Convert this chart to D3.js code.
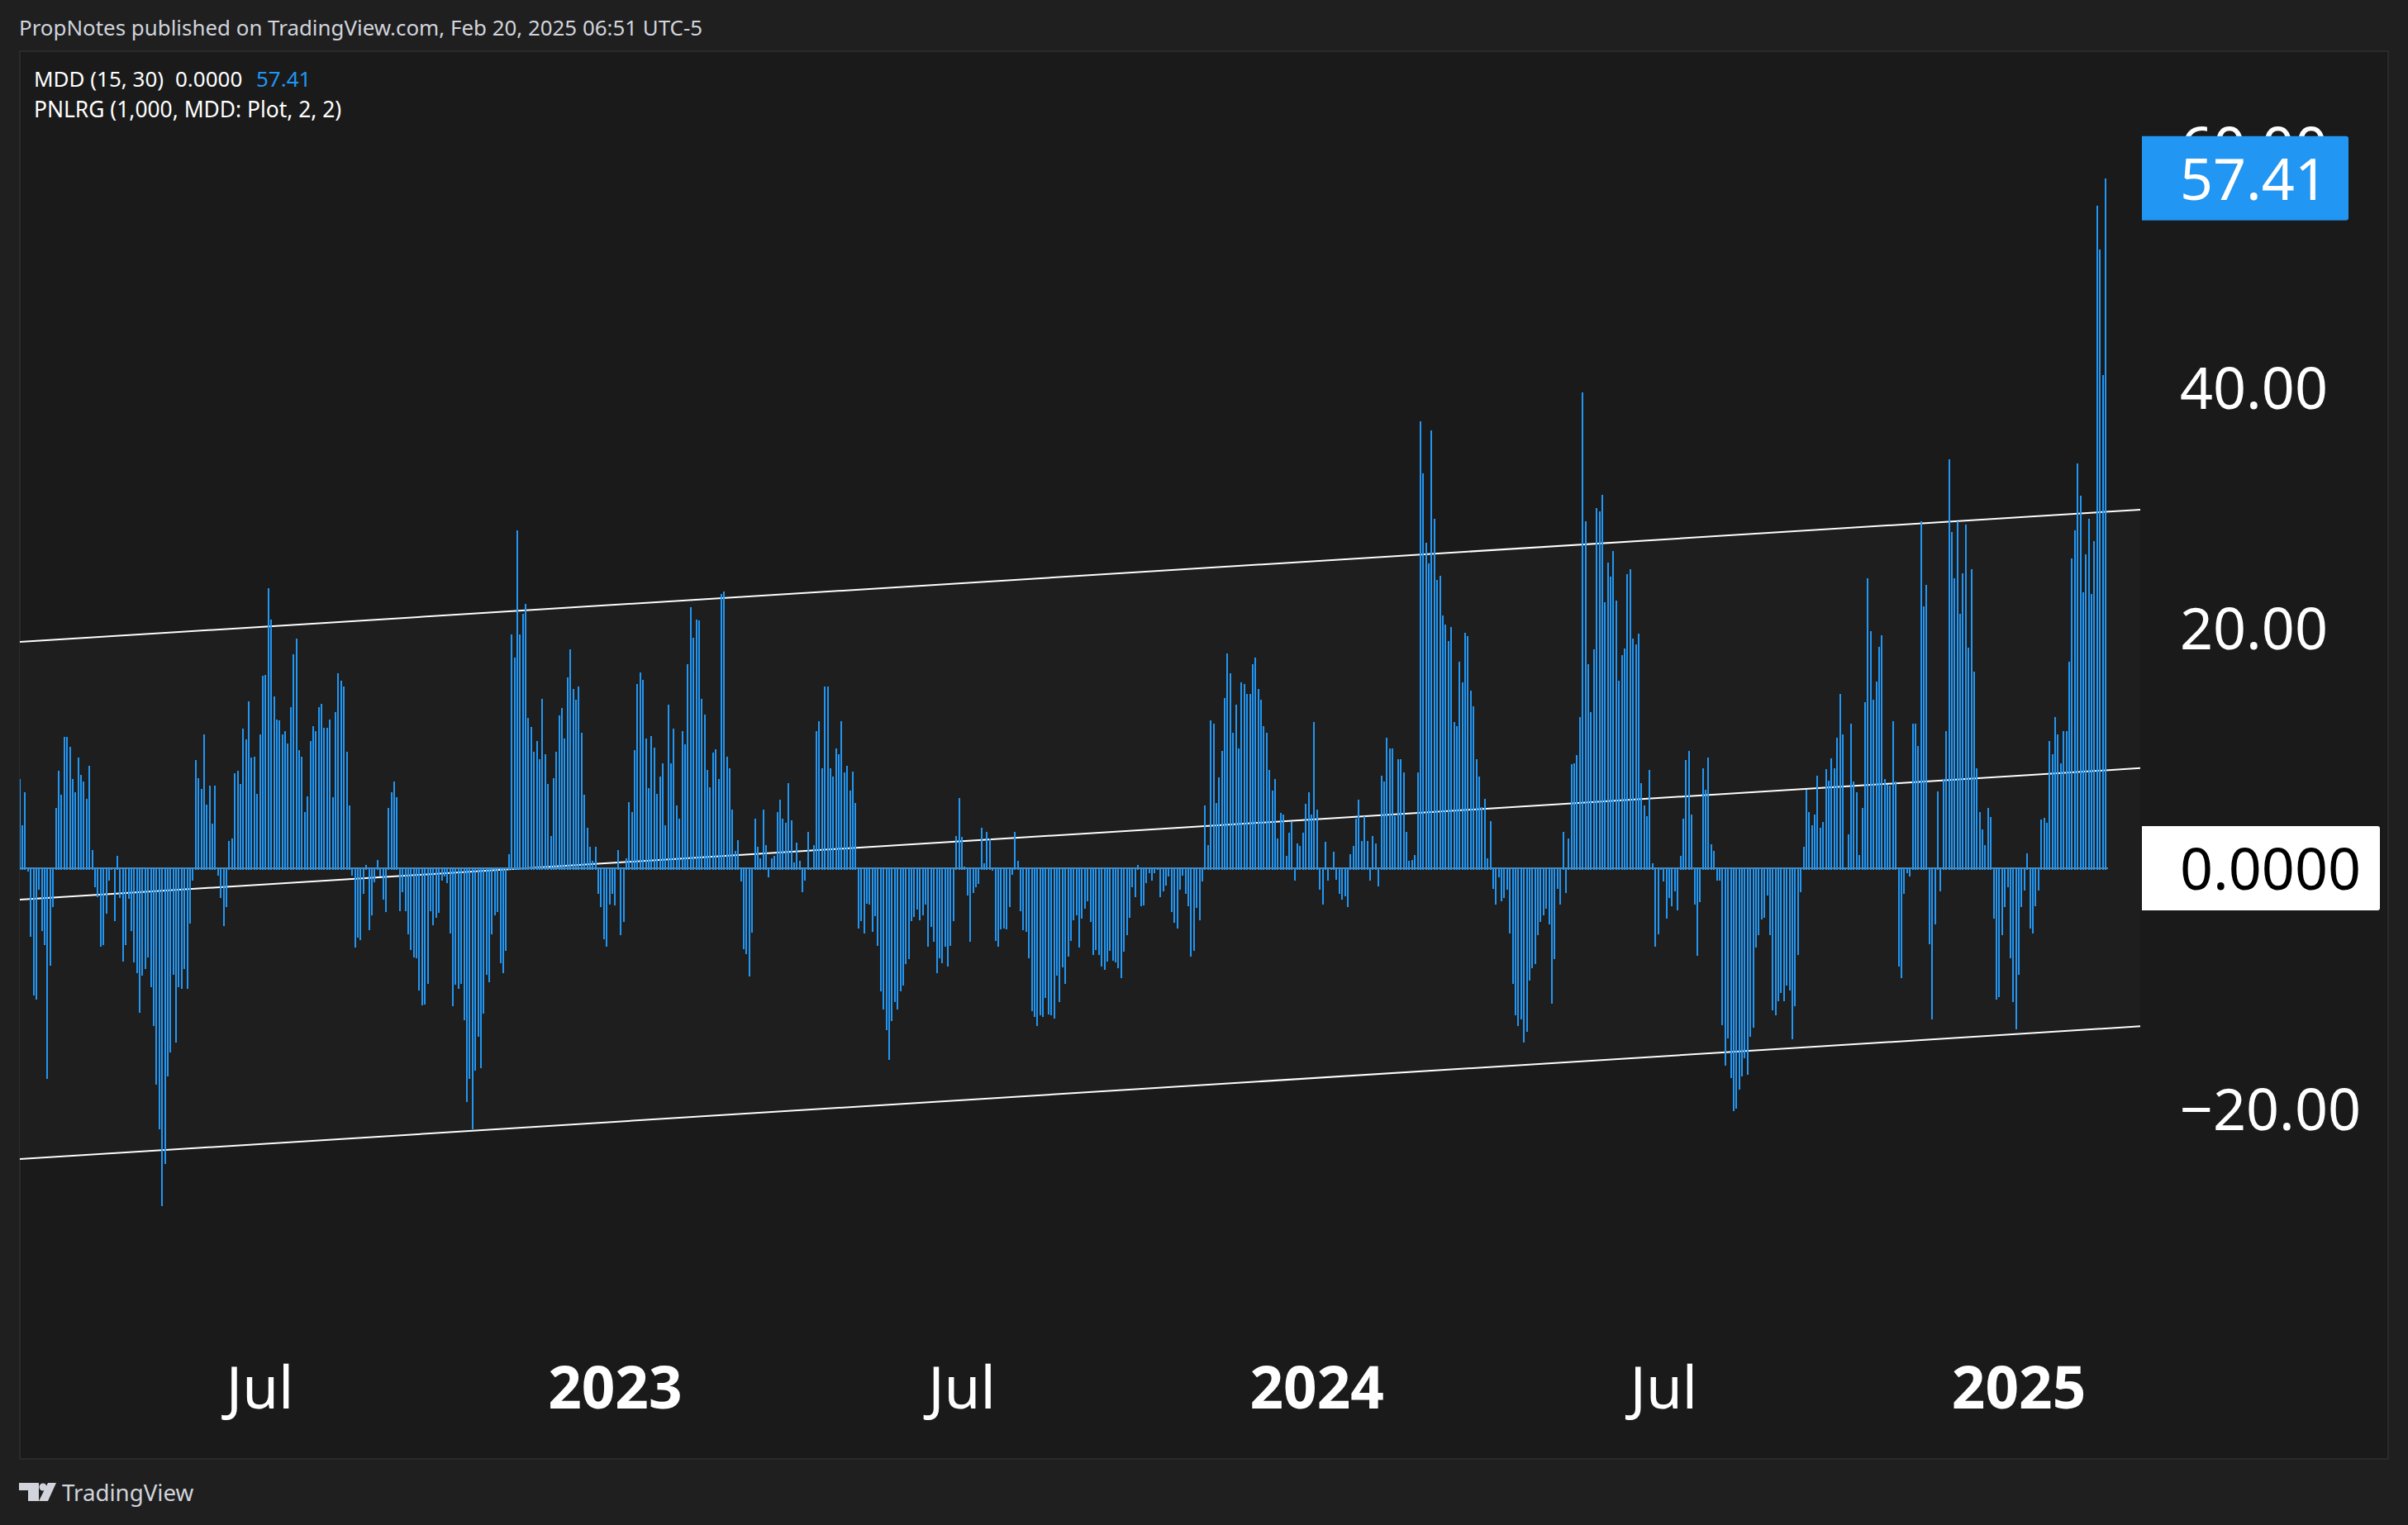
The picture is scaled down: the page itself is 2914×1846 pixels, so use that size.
<!DOCTYPE html>
<html>
<head>
<meta charset="utf-8">
<style>
html,body{margin:0;padding:0;background:#1f1f1f;}
svg{display:block;font-family:"Noto Sans",sans-serif;}
</style>
<script src="https://cdn.jsdelivr.net/npm/d3@7/dist/d3.min.js"></script>
</head>
<body>
<svg id="c" width="2914" height="1846"></svg>
<script>
const headerText = "PropNotes published on TradingView.com, Feb 20, 2025 06:51 UTC-5";
const legendName = "MDD (15, 30)";
const legendZero = "0.0000";
const legendValue = "57.41";
const legendChannel = "PNLRG (1,000, MDD: Plot, 2, 2)";
const brandText = "TradingView";
const yTicks = [60, 40, 20, -20];
const timeLabels = ["Jul", "2023", "Jul", "2024", "Jul", "2025"];
const timeBars = [86, 213, 337, 464, 588, 715];
const timeBold = [false, true, false, true, false, true];
const lastValue = 57.41;
const upperBand = [18.83, 29.83];
const middleBand = [-2.61, 8.33];
const lowerBand = [-24.2, -13.15];
const mddValues = [
7.4,3.6,6.3,-0.25,-5.7,-10.6,-10.9,-1.8,-5.2,-6.4,-17.5,-8.1,-3.2,5.05,8.1,6.1,10.9,10.9,10.1,7.4,6.35,9.2,7.8,7.2,5.8,8.5,1.5,-1.6,-2.4,-6.5,-6.4,-3.8,-1.05,-0.15,-4.4,1.0,-2.5,-7.8,-6.4,-2.55,-5.2,-7.85,-8.75,-12,-8.95,-8.4,-7.4,-9.9,-13.1,-18,-21.7,-28.1,-24.6,-17.3,-15.3,-8.9,-14.5,-9.9,-10,-8.4,-10,-4.6,-1.05,9,7.5,6.6,11.1,5.3,6.85,3.7,6.9,-0.6,-2.5,-4.8,-3.2,2.3,2.5,7.9,8.1,7,11.6,10.7,13.9,9.2,9.3,6.2,11.1,16,16.1,23.3,20.7,14.3,12.4,12.3,11.1,11.4,10.4,13.4,17.8,19.1,9.8,9.3,4.7,6,10.6,11.8,11.4,13.4,13.7,11.7,11.7,12.4,5.9,13,16.2,15.6,15.1,9.7,5.2,-0.6,-6.6,-5.8,-6,-2.1,
0.25,-5.15,-3.9,-1.2,0.7,-0.7,-2.6,-3.65,5,6.3,7.2,5.9,-3.6,-2,-3.6,-5.5,-6.8,-7.4,-7.5,-10.2,-11.4,-11.35,-9.6,-3.6,-4.75,-4.1,-3.7,-1.05,-0.7,-1.25,-5.4,-11.5,-9.7,-10,-9.6,-12.65,-19.45,-17.5,-21.7,-16.85,-14,-16.6,-12.1,-8.9,-9.5,-5.5,-3.9,-3.65,-7.9,-8.7,-6.9,1.2,19.45,17.5,28.1,19.45,21.2,22,12.5,11.75,9.7,10.6,9.1,14.1,9.5,7,2.7,7.5,9.7,12.7,13.3,10.8,15.9,18.2,14.9,14.05,15.1,11.3,6.1,3.4,1.8,0.65,1.8,-2.1,-3.25,-5.9,-6.5,-3.05,-2.15,-3.1,1.5,-5.6,-4.5,0.85,5.5,4.7,9.8,15.35,16.3,15.7,10.8,6.7,11,10.05,6.2,7.65,8.7,3.6,13.6,8.7,11.6,5.2,4.15,11.4,10.3,17,21.7,19.2,
20.7,20.65,14.1,12.75,8.15,6.75,9.6,9.9,7.45,22.8,23.05,9.25,8.35,4.85,1.45,2.35,-1.1,-6.75,-7.15,-9,-5.35,4.15,1.8,0.85,4.9,1.9,-0.75,0.8,1,4.7,5.7,4.15,3.75,7.05,4,0.45,2.15,0.6,-2,-1.05,3.05,0,1.9,11.4,12.25,8.3,15.15,15.1,8.35,7.65,10,9.5,12.2,7.95,8.5,6.45,8.05,5.45,-5,-4.4,-5.45,-2.95,-3,-5.3,-4,-6.45,-10.25,-11.75,-13.5,-15.95,-12.7,-11.15,-11.75,-10.25,-9.75,-8,-7.55,-4.4,-4.05,-3.45,-4.35,-3.9,-3,-6.5,-4.9,-6.1,-8.7,-7.5,-7.9,-6.5,-8.2,-6.45,-4.4,2.65,5.85,2.6,0.15,-2.3,-6.1,-2.05,-1.6,-1.3,3.4,0.4,3,2.5,-0.2,-6.05,-6.5,-5.1,-5.05,-5.1,-3.2,-0.55,3,0.6,-3.6,-5.15,
-5.3,-7.5,-11.9,-12.35,-13.15,-12.25,-12.35,-10.8,-12.15,-12.25,-12.5,-8.95,-11.15,-8.25,-9.6,-7.35,-6.05,-4.35,-3.9,-6.6,-4.2,-3.35,-2.75,-4.45,-7.2,-6.8,-7.2,-8.2,-8.45,-7.75,-6.85,-7.7,-7.85,-8.3,-9.15,-6.95,-5.55,-4.1,-1.6,-2.4,0.25,-3.15,-3.1,-1.25,-0.4,-1.05,-0.4,-0.15,-2.4,-1.9,-1.45,-0.7,-3.65,-4.55,-5,-1.8,-0.6,-2.15,-3.15,-7.35,-6.85,-3.3,-4.35,-1.1,5.2,1.9,12.3,12.05,5.4,7.55,9.75,14.15,17.9,16.25,11.25,13.6,9.95,15.45,15.35,14.5,14.5,16.95,17.55,14.9,14,11.85,11.3,8.15,6.45,7.4,2.45,4.6,4.45,1,2.95,3.85,-1.05,2.05,1.85,2.95,5.35,6.3,4.45,12.15,4.9,-1.8,-3,2.2,-1.05,0,1.4,-0.95,-2.15,-2.6,-2.35,-3.2,1.2,1.85,
4.15,5.7,2.3,4.3,2.25,-1.05,2.65,2.05,-1.5,7.7,7.25,10.85,10,10,4.3,9.1,9.05,8,3.05,0.65,0.7,1.1,8,37.2,32.85,27.1,25.35,36.4,29.05,24,24.3,21,20.25,18.9,20.05,12.15,11.8,17.2,15.45,19.6,19.3,14.75,13.45,9.1,7.65,5.1,5.75,0.85,3.9,-1.75,-3,-0.75,-2.75,-2.5,-1.8,-5.45,-9.6,-12.2,-13.1,-12.55,-14.5,-13.6,-9.35,-8.35,-8,-5.6,-4.5,-3.95,-3.4,-4.7,-11.3,-7.55,-1.7,-3.05,3,-2.05,2.5,8.65,8.7,9.45,12.55,39.6,28.9,16.95,13,18.2,30,29.7,31.05,22.1,25.4,24.25,26.4,22.3,15.6,17.7,18.25,24.45,24.9,19.1,18.6,19.55,7.05,5.2,4.35,8.15,0.4,-6.5,-5.5,0,-1.1,-4.2,-2.5,-3.15,-1.95,-3.5,1,4.15,
9,9.75,4.45,-3,-7.3,-2.8,8.3,6.55,9.2,2,1.45,-1,-1,-13.05,-16.4,-14.15,-17.45,-20.2,-20,-18.45,-17.3,-15.8,-17.15,-14,-13.25,-6.6,-5.6,-4.25,-4.15,-2.25,-5.55,-11.8,-12.2,-11.05,-10.35,-11.05,-9.75,-10.2,-14.2,-11.45,-7.2,-2,1.8,6.5,4.65,3.55,4.5,7.7,3.4,3.85,8.25,7.3,9.15,8.3,10.85,14.5,11.1,0.1,2.85,12.05,7.2,6.3,1.1,5.05,13.8,24.1,19.7,14,15.5,18.4,19.35,7.4,6.95,6.9,12.25,7.2,-8.15,-9.15,-2.1,-0.4,-0.7,12,12,
10.2,28.85,21.8,23.6,-6.35,-12.6,-4.65,6.4,-1.9,7.45,11.4,34,27.95,24.1,28.85,21.15,24.55,28.6,18.35,24.85,16.35,8.3,4.7,3.2,1.95,5,4.25,-4.2,-10.95,-10.75,-5.6,-3.2,-1.55,-7.5,-11.15,-13.4,-8.85,-3.2,-1.85,1.25,-5.05,-5.4,-3.15,-1.85,4.05,4.2,3.75,10.55,9.5,12.6,11.15,8.75,11.4,11.4,17.15,25.75,28.1,33.65,31,22.95,26.1,29.05,22.8,27.2,55.1,51.5,41,57.41
];

const svg = d3.select("#c");
const n = mddValues.length;
const x = d3.scaleLinear().domain([0, n - 1]).range([23.6, 2548]);
const y = d3.scaleLinear().domain([0, 40]).range([1051, 469]);
const fmt = d3.format(".2f");
const bandEnd = n - 1 + 12.5;

// backgrounds
svg.append("rect").attr("width", 2914).attr("height", 1846).attr("fill", "#1f1f1f");
svg.append("rect").attr("x", 24).attr("y", 62).attr("width", 2866).attr("height", 1704)
  .attr("fill", "#1a1a1a").attr("stroke", "#2a2a2a").attr("stroke-width", 2);

const defs = svg.append("defs");
defs.append("clipPath").attr("id", "plot").append("rect")
  .attr("x", 24).attr("y", 62).attr("width", 2566).attr("height", 1704);
const plot = svg.append("g").attr("clip-path", "url(#plot)");

// regression channel
const area = d3.area().x(d => x(d.i)).y0(d => y(d.lo)).y1(d => y(d.hi));
plot.append("path")
  .attr("d", area([{i: 0, lo: lowerBand[0], hi: upperBand[0]}, {i: bandEnd, lo: lowerBand[1], hi: upperBand[1]}]))
  .attr("fill", "#1e1e1e");
[upperBand, middleBand, lowerBand].forEach(b => {
  plot.append("line")
    .attr("x1", x(0)).attr("x2", x(bandEnd))
    .attr("y1", y(b[0])).attr("y2", y(b[1]))
    .attr("stroke", "#ffffff").attr("stroke-width", 2);
});

// zero line
plot.append("line").attr("x1", x(0)).attr("x2", x(n - 1) + 3)
  .attr("y1", y(0)).attr("y2", y(0)).attr("stroke", "#787878").attr("stroke-width", 2);

// bars
plot.selectAll("rect.bar").data(mddValues).join("rect").attr("class", "bar")
  .attr("x", (d, i) => Math.round(x(i)) - 1)
  .attr("width", 2)
  .attr("y", d => d >= 0 ? y(d) : y(0) - 1)
  .attr("height", d => Math.abs(y(d) - y(0)) + (d >= 0 ? 2 : 1))
  .attr("fill", "#2196f3")
  .attr("shape-rendering", "crispEdges");

// value axis
svg.selectAll("text.ytick").data(yTicks).join("text").attr("class", "ytick")
  .attr("x", 2638).attr("y", d => y(d) + 1.5).attr("dy", "0.357em")
  .attr("font-size", 70).attr("fill", "#ffffff").text(d => fmt(d));

const tag = (val, right, fill, fg, label) => {
  const t = y(val) - 51, b = y(val) + 51, l = 2592, r = 3;
  svg.append("path")
    .attr("d", `M${l},${t}H${right - r}Q${right},${t} ${right},${t + r}V${b - r}Q${right},${b} ${right - r},${b}H${l}Z`)
    .attr("fill", fill);
  svg.append("text").attr("x", 2638).attr("y", y(val) + 1.5).attr("dy", "0.357em")
    .attr("font-size", 70).attr("fill", fg).text(label);
};
tag(lastValue, 2842, "#2196f3", "#ffffff", fmt(lastValue));
tag(0, 2880, "#ffffff", "#000000", legendZero);

// time axis
svg.selectAll("text.xtick").data(timeLabels).join("text").attr("class", "xtick")
  .attr("x", (d, i) => x(timeBars[i])).attr("y", 1705)
  .attr("text-anchor", "middle").attr("font-size", 71)
  .attr("font-weight", (d, i) => timeBold[i] ? 700 : 400)
  .attr("fill", "#ffffff").text(d => d);

// header and legend
svg.append("text").attr("x", 23).attr("y", 43).attr("font-size", 25.9).attr("fill", "#d1d4dc").text(headerText);
svg.append("text").attr("x", 41).attr("y", 105).attr("font-size", 26).attr("fill", "#ffffff").text(legendName);
svg.append("text").attr("x", 212).attr("y", 105).attr("font-size", 26).attr("fill", "#ffffff").text(legendZero);
svg.append("text").attr("x", 310).attr("y", 105).attr("font-size", 26).attr("fill", "#2196f3").text(legendValue);
svg.append("text").attr("x", 41).attr("y", 142).attr("font-size", 26.4).attr("fill", "#ffffff").text(legendChannel);

// footer brand
const brand = svg.append("g").attr("fill", "#d1d4dc");
brand.append("path").attr("d", "M23,1795H47V1817H34V1804H23Z");
brand.append("circle").attr("cx", 52).attr("cy", 1800).attr("r", 4.5);
brand.append("path").attr("d", "M58,1795H68L58,1817H47Z");
brand.append("text").attr("x", 75).attr("y", 1817).attr("font-size", 27.7).text(brandText);
</script>
</body>
</html>
